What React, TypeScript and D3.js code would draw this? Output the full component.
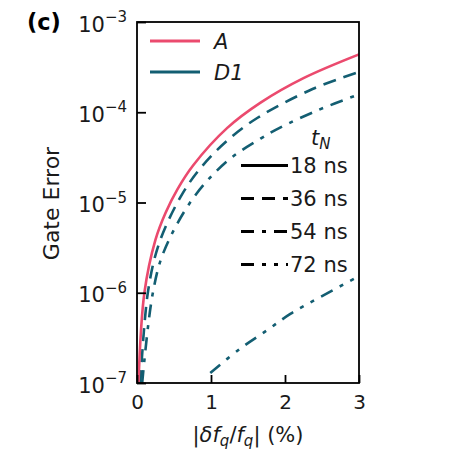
import { useRef, useEffect } from "react";
import * as d3 from "d3";

// curves: x = |δf_q/f_q| in %, y = gate error
const aX18 = [0.02, 0.1, 0.25, 0.385, 0.546, 0.76, 1.22, 1.67, 2.25, 3.0];
const aY18 = [1.0e-7, 1.0e-6, 3.88e-6, 7.66e-6, 1.4e-5, 2.59e-5, 6.71e-5, 1.28e-4, 2.39e-4, 4.38e-4];

const d1X36 = [0.045, 0.15, 0.3, 0.585, 0.855, 1.22, 1.63, 2.38, 3.0];
const d1Y36 = [1.0e-7, 1.05e-6, 3.55e-6, 1.14e-5, 2.39e-5, 4.86e-5, 8.69e-5, 1.82e-4, 2.79e-4];

const d1X54 = [0.07, 0.21, 0.36, 0.76, 1.22, 1.67, 1.94, 2.44, 3.0];
const d1Y54 = [1.0e-7, 9.55e-7, 2.82e-6, 1.12e-5, 2.88e-5, 5.11e-5, 6.79e-5, 1.05e-4, 1.58e-4];

const d1X72 = [0.99, 1.396, 1.761, 2.072, 2.478, 3.0];
const d1Y72 = [1.29e-7, 2.41e-7, 3.86e-7, 5.82e-7, 8.97e-7, 1.53e-6];

const xTicks = [0, 1, 2, 3];
const yExponents = [-7, -6, -5, -4, -3];

const pulseLabels = ["18 ns", "36 ns", "54 ns", "72 ns"];
const pulseDashes = ["none", "13,8", "13,8,4,8", "13,8,4,8,4,8"];

const PINK = "#EB4A6E";
const TEAL = "#135E72";
const FONT = "DejaVu Sans, sans-serif";

const series = [
  { xs: aX18, ys: aY18, color: PINK, dash: pulseDashes[0] },
  { xs: d1X36, ys: d1Y36, color: TEAL, dash: pulseDashes[1] },
  { xs: d1X54, ys: d1Y54, color: TEAL, dash: pulseDashes[2] },
  { xs: d1X72, ys: d1Y72, color: TEAL, dash: pulseDashes[3] },
];

export default function App() {
  const svgRef = useRef<SVGSVGElement>(null);
  const width = 456;
  const height = 456;
  const margin = { top: 22, right: 97, bottom: 73, left: 137 };
  const innerW = width - margin.left - margin.right;
  const innerH = height - margin.top - margin.bottom;

  useEffect(() => {
    if (!svgRef.current) return;
    const svg = d3.select(svgRef.current);
    svg.selectAll("*").remove();

    const x = d3.scaleLinear().domain([0, 3]).range([0, innerW]);
    const y = d3.scaleLog().domain([1e-7, 1e-3]).range([innerH, 0]);

    svg
      .append("defs")
      .append("clipPath")
      .attr("id", "plot-clip")
      .append("rect")
      .attr("width", innerW)
      .attr("height", innerH);

    const g = svg.append("g").attr("transform", `translate(${margin.left},${margin.top})`);

    // curves (centripetal Catmull-Rom keeps the steep start smooth)
    const line = d3
      .line<[number, number]>()
      .x((d) => x(d[0]))
      .y((d) => y(d[1]))
      .curve(d3.curveCatmullRom.alpha(0.5));

    const curves = g.append("g").attr("clip-path", "url(#plot-clip)");
    series
      .slice()
      .reverse()
      .forEach((s) => {
        curves
          .append("path")
          .datum(s.xs.map((v, i) => [v, s.ys[i]] as [number, number]))
          .attr("fill", "none")
          .attr("stroke", s.color)
          .attr("stroke-width", 2.6)
          .attr("stroke-dasharray", s.dash)
          .attr("d", line);
      });

    // frame
    g.append("rect")
      .attr("width", innerW)
      .attr("height", innerH)
      .attr("fill", "none")
      .attr("stroke", "#000")
      .attr("stroke-width", 1.8);

    // x axis
    g.append("g")
      .attr("transform", `translate(0,${innerH})`)
      .call(d3.axisBottom(x).tickValues(xTicks).tickSize(-8).tickPadding(12).tickFormat(d3.format("d")))
      .call((axis) => {
        axis.select(".domain").remove();
        axis.selectAll(".tick line").attr("stroke", "#000").attr("stroke-width", 1.8);
        axis
          .selectAll(".tick text")
          .attr("fill", "#1a1a1a")
          .attr("font-size", 20)
          .attr("font-family", FONT);
      });

    // y axis with 10^n labels
    g.append("g")
      .call(
        d3
          .axisLeft(y)
          .tickValues(yExponents.map((e) => Math.pow(10, e)))
          .tickSize(-9)
          .tickPadding(10)
          .tickFormat(() => "")
      )
      .call((axis) => {
        axis.select(".domain").remove();
        axis.selectAll(".tick line").attr("stroke", "#000").attr("stroke-width", 1.8);
        axis
          .selectAll<SVGTextElement, number>(".tick text")
          .attr("fill", "#1a1a1a")
          .attr("font-family", FONT)
          .attr("dy", null)
          .attr("y", 9)
          .each(function (d) {
            const t = d3.select(this);
            const e = Math.round(Math.log10(d));
            t.append("tspan").attr("font-size", 21).text("10");
            t.append("tspan")
              .attr("font-size", 15)
              .attr("dy", -9.5)
              .text(`\u2212${Math.abs(e)}`);
          });
      });

    // axis titles
    g.append("text")
      .attr("x", innerW / 2)
      .attr("y", innerH + 59)
      .attr("text-anchor", "middle")
      .attr("font-family", FONT)
      .attr("font-size", 21)
      .attr("fill", "#1a1a1a")
      .call((t) => {
        t.append("tspan").text("|");
        t.append("tspan").attr("font-style", "italic").text("\u03B4f");
        t.append("tspan").attr("font-style", "italic").attr("font-size", 15).attr("dy", 4).text("q");
        t.append("tspan").attr("dy", -4).text("/");
        t.append("tspan").attr("font-style", "italic").text("f");
        t.append("tspan").attr("font-style", "italic").attr("font-size", 15).attr("dy", 4).text("q");
        t.append("tspan").attr("dy", -4).text("| (%)");
      });

    g.append("text")
      .attr("transform", `translate(${58.5 - margin.left},${innerH / 2 + 1}) rotate(-90)`)
      .attr("text-anchor", "middle")
      .attr("font-family", FONT)
      .attr("font-size", 22)
      .attr("fill", "#1a1a1a")
      .text("Gate Error");

    // panel letter
    svg
      .append("text")
      .attr("x", 27)
      .attr("y", 30)
      .attr("font-family", FONT)
      .attr("font-weight", "bold")
      .attr("font-size", 22.5)
      .attr("fill", "#000")
      .text("(c)");

    // legend: qubit scheme
    const schemes = [
      { label: "A", sub: "", color: PINK },
      { label: "D", sub: "1", color: TEAL },
    ];
    schemes.forEach((s, i) => {
      const ly = 19 + i * 31;
      g.append("line")
        .attr("x1", 13)
        .attr("x2", 63)
        .attr("y1", ly)
        .attr("y2", ly)
        .attr("stroke", s.color)
        .attr("stroke-width", 3.2);
      const t = g
        .append("text")
        .attr("x", 77)
        .attr("y", ly + 7.5)
        .attr("font-family", FONT)
        .attr("font-size", 21)
        .attr("fill", "#1a1a1a");
      t.append("tspan").attr("font-style", "italic").text(s.label);
      if (s.sub) t.append("tspan").attr("font-style", "italic").text(s.sub);
    });

    // legend: pulse duration
    const lg = g.append("g").attr("transform", `translate(${241 - margin.left},0)`);
    const tN = lg
      .append("text")
      .attr("x", 70)
      .attr("y", 123)
      .attr("font-family", FONT)
      .attr("font-size", 21)
      .attr("fill", "#1a1a1a");
    tN.append("tspan").attr("font-style", "italic").text("t");
    tN.append("tspan").attr("font-style", "italic").attr("font-size", 15).attr("dy", 4).text("N");

    pulseLabels.forEach((label, i) => {
      const ly = 143.5 + i * 33;
      lg.append("line")
        .attr("x1", 0)
        .attr("x2", 47)
        .attr("y1", ly)
        .attr("y2", ly)
        .attr("stroke", "#000")
        .attr("stroke-width", 3)
        .attr("stroke-dasharray", pulseDashes[i]);
      lg.append("text")
        .attr("x", 49)
        .attr("y", ly + 7.5)
        .attr("font-family", FONT)
        .attr("font-size", 21)
        .attr("fill", "#1a1a1a")
        .text(label);
    });
  }, [innerW, innerH, margin.left, margin.top]);

  return (
    <svg
      ref={svgRef}
      width={width}
      height={height}
      style={{ position: "absolute", left: 0, top: 0, display: "block", background: "#fff" }}
    />
  );
}
